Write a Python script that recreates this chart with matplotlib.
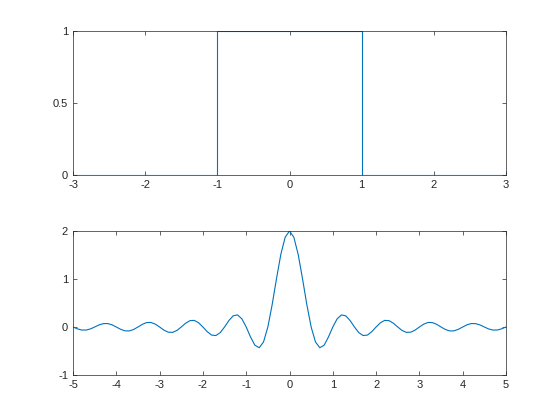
import matplotlib.pyplot as plt

plt.rcParams['font.family'] = ['Liberation Sans', 'DejaVu Sans']
plt.rcParams['axes.unicode_minus'] = False

# rectangular pulse
rect_t = [-3, -1, -1, 1, 1, 3]
rect_y = [0, 0, 1, 1, 0, 0]

# spectrum samples (f >= 0, mirrored)
freq_pos = [i / 10 for i in range(51)]
spec_pos = [2.000, 1.871, 1.514, 1.009, 0.468, 0.0, -0.312, -0.432, -0.378, -0.208,
            0.0, 0.170, 0.252, 0.233, 0.134, 0.0, -0.117, -0.178, -0.168, -0.098,
            0.0, 0.089, 0.138, 0.132, 0.078, 0.0, -0.072, -0.112, -0.108, -0.065,
            0.0, 0.060, 0.095, 0.092, 0.055, 0.0, -0.052, -0.082, -0.080, -0.048,
            0.0, 0.046, 0.072, 0.070, 0.043, 0.0, -0.041, -0.064, -0.063, -0.038,
            0.0]
freq = [-f for f in freq_pos[:0:-1]] + freq_pos
spec = spec_pos[:0:-1] + spec_pos

color = "#0072BD"
W, H = 560, 420
fig = plt.figure(figsize=(W / 100, H / 100), dpi=100)
ax1 = fig.add_axes([73 / W, 1 - 175 / H, 433 / W, 144 / H])
ax2 = fig.add_axes([73 / W, 1 - 375 / H, 433 / W, 144 / H])

ax1.plot(rect_t, rect_y, color=color, lw=0.8)
ax1.set_xlim(-3, 3)
ax1.set_ylim(0, 1)
ax1.set_yticks([0, 0.5, 1])
ax1.set_yticklabels(["0", "0.5", "1"])

ax2.plot(freq, spec, color=color, lw=0.8)
ax2.set_xlim(-5, 5)
ax2.set_ylim(-1, 2)
ax2.set_xticks(range(-5, 6))
ax2.set_yticks([-1, 0, 1, 2])

for ax in (ax1, ax2):
    ax.tick_params(direction="in", labelsize=8, length=3, width=0.5,
                   top=True, right=True, colors="#262626")
    for s in ax.spines.values():
        s.set_linewidth(0.5)
        s.set_color("#262626")

fig.savefig("out.png", dpi=100)
